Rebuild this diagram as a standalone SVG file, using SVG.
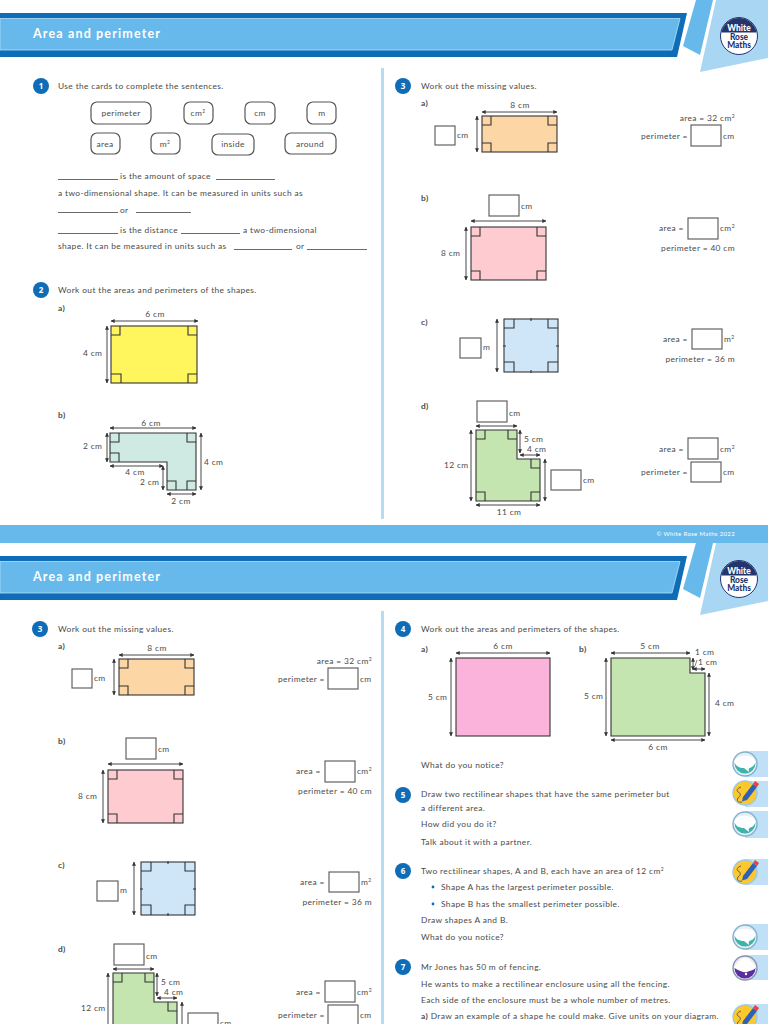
<svg xmlns="http://www.w3.org/2000/svg" width="768" height="1024" viewBox="0 0 768 1024">
<style>
text{font-family:Lato,"Noto Sans","Liberation Sans",sans-serif}
.t{font-size:8.4px;letter-spacing:.37px;fill:#4a4a4a}
.b{font-weight:700}
.e{text-anchor:end}
.m{text-anchor:middle}
.n{font-size:8px;font-weight:700;fill:#fff;text-anchor:middle;font-family:"Noto Sans",sans-serif}
.title{font-size:12.5px;font-weight:700;fill:#fff;letter-spacing:1.15px}
.logo{font-size:8.4px;font-weight:900;text-anchor:middle;fill:#24356e}
.sup{font-size:5px}
.card{fill:#fff;stroke:#555;stroke-width:1.2}
.box{fill:#fff;stroke:#555;stroke-width:1.1}
.sh{stroke:#333;stroke-width:1.1}
.ra{fill:none;stroke:#333;stroke-width:1.1}
.ar{fill:none;stroke:#333;stroke-width:.9;marker-start:url(#ah);marker-end:url(#ah)}
.ul{stroke:#444;stroke-width:.8}
.tab{fill:#bfe0f6}
</style>
<defs>
<marker id="ah" viewBox="0 0 6 6" refX="5.5" refY="3" markerWidth="4" markerHeight="4" orient="auto-start-reverse" markerUnits="userSpaceOnUse"><path d="M0 0L6 3L0 6z" fill="#333"/></marker>
<clipPath id="lc"><circle cx="739" cy="36" r="18"/></clipPath>
<g id="hdr">
<path d="M0 13H687L677 57H0z" fill="#0f6cb6"/>
<path d="M0 18.5H680L672 50H0z" fill="#66b9ea" stroke="#b5dff8" stroke-width=".8"/>
<path d="M696 0H713L700 55L683 46z" fill="#66b9ea"/>
<path d="M716 0H768V58L700 72z" fill="#a8d6f3"/>
<circle cx="739" cy="36" r="18.5" fill="#fff" stroke="#24356e" stroke-width="1"/>
<rect x="720" y="17" width="38" height="15.5" fill="#24356e" clip-path="url(#lc)"/>
</g>
<g id="q3shapes">
<rect x="482" y="116" width="75" height="36" fill="#fdd6a6" class="sh"/>
<path class="ra" d="M491 116V125H482M548 116V125H557M482 143H491V152M557 143H548V152"/>
<path class="ar" d="M482 112H557"/><path class="ar" d="M477 116V152"/>
<rect class="box" x="435" y="126" width="20" height="19"/>
<rect class="box" x="691" y="125" width="30" height="21"/>
<rect class="box" x="489" y="195" width="30" height="21"/>
<path class="ar" d="M471 221H546"/>
<rect x="471" y="227" width="75" height="53" fill="#fdcbd0" class="sh"/>
<path class="ra" d="M480 227V236H471M537 227V236H546M471 271H480V280M546 271H537V280"/>
<path class="ar" d="M466 227V280"/>
<rect class="box" x="688" y="218" width="30" height="21"/>
<rect x="504" y="319" width="54" height="53" fill="#cfe6f8" class="sh"/>
<path class="ra" d="M514 319V328H504M548 319V328H558M504 362H514V372M558 362H548V372M531 318V321M531 370V373M503 346H506M556 346H559"/>
<path class="ar" d="M497 319V372"/>
<rect class="box" x="460" y="338" width="21" height="20"/>
<rect class="box" x="692" y="329" width="30" height="20"/>
<rect class="box" x="477" y="401" width="30" height="21"/>
<path class="ar" d="M476 426H517"/>
<path d="M476 430H517V459H540V501H476z" fill="#c5e5b0" class="sh"/>
<path class="ra" d="M485 430V439H476M508 430V439H517M540 468H531V459M476 492H485V501M540 492H531V501"/>
<path class="ar" d="M471 430V501"/><path class="ar" d="M520 430V453"/><path class="ar" d="M520 455H540"/><path class="ar" d="M545 459V501"/>
<rect class="box" x="551" y="470" width="30" height="20"/>
<path class="ar" d="M476 505H540"/>
<rect class="box" x="688" y="438" width="30" height="21"/>
<rect class="box" x="691" y="462" width="30" height="20"/>
</g>
<g id="talk">
<circle r="12" fill="#e8eef2" stroke="#7fb4cf" stroke-width="1.4"/>
<path d="M-10.5 -1A10.5 10.5 0 0 0 10.5 -1L6 2L3 6L1 3H-5z" fill="#3fb3ab"/>
<path d="M-10.5 -3C-8 -10 8 -10 10.5 -3C10 2 6 4 3.5 4L4 8L-1 4C-6 4 -10 2 -10.5 -3z" fill="#fff"/>
</g>
<g id="think">
<circle r="12" fill="#e8eef2" stroke="#8a8fb0" stroke-width="1.4"/>
<path d="M-10.5 0A10.5 10.5 0 0 0 10.5 0z" fill="#5b2d9e"/>
<path d="M-10.5 0C-10 -4 -6 -5 -5 -8C-3 -11 3 -11 5 -8C7 -5 10 -4 10.5 0C8 3 3 3 2 4C0 5 -6 3 -10.5 0z" fill="#fff"/>
<circle cx="1" cy="6" r="1.2" fill="#fff"/>
</g>
<g id="pencil">
<circle r="12" fill="#fcc82e" stroke="#9cc9e4" stroke-width="1.4"/>
<path d="M-2 4L8 -9L12 -6L2 7L-3 8.5z" fill="#2f62b5"/>
<path d="M8 -9L10 -12L14 -9L12 -6z" fill="#e0463c"/>
<path d="M-3 9C-6 10 -9 8 -7 5C-4 3 -4 0 -7 -1C-9 -3 -7 -5 -4 -6" fill="none" stroke="#555" stroke-width=".9"/>
</g>
</defs>

<g id="page1-header">
<use href="#hdr"/>
<text class="title" x="33" y="38">Area and perimeter</text>
<text class="logo" x="739" y="31" style="fill:#fff">White</text>
<text class="logo" x="739" y="39.5">Rose</text>
<text class="logo" x="739" y="47.5">Maths</text>
</g>
<rect id="page1-divider" x="381" y="68" width="3" height="451" fill="#b5dcf5"/>
<g id="page1-footer">
<rect y="525" width="768" height="18" fill="#66b9ea"/>
<text x="735" y="536" style="font-size:6px;letter-spacing:.35px;fill:#fff" class="e">© White Rose Maths 2022</text>
</g>

<g id="q1">
<circle cx="41" cy="86" r="8" fill="#0f6cb6"/><text class="n" x="41" y="89">1</text>
<text class="t" x="58" y="89">Use the cards to complete the sentences.</text>
<g id="cards">
<rect class="card" x="91" y="102" width="60" height="22" rx="6"/><text class="t m" x="121" y="116">perimeter</text>
<rect class="card" x="184" y="102" width="29" height="22" rx="6"/><text class="t m" x="198" y="116">cm<tspan class="sup" dy="-3">2</tspan></text>
<rect class="card" x="245" y="102" width="30" height="22" rx="6"/><text class="t m" x="260" y="116">cm</text>
<rect class="card" x="307" y="102" width="29" height="22" rx="6"/><text class="t m" x="322" y="116">m</text>
<rect class="card" x="91" y="133" width="29" height="21" rx="6"/><text class="t m" x="105" y="147">area</text>
<rect class="card" x="151" y="133" width="29" height="21" rx="6"/><text class="t m" x="165" y="147">m<tspan class="sup" dy="-3">2</tspan></text>
<rect class="card" x="212" y="134" width="42" height="21" rx="6"/><text class="t m" x="233" y="147">inside</text>
<rect class="card" x="285" y="133" width="51" height="21" rx="6"/><text class="t m" x="310" y="147">around</text>
</g>
<path class="ul" d="M58 179.5H118M216 179.5H275M58 212.5H118M136 212.5H191M58 233.5H118M181 233.5H240M234 249.5H292M307 249.5H367"/>
<text class="t" x="120" y="179">is the amount of space</text>
<text class="t" x="58" y="196">a two-dimensional shape. It can be measured in units such as</text>
<text class="t" x="120" y="213">or</text>
<text class="t" x="120" y="233">is the distance</text>
<text class="t" x="243" y="233">a two-dimensional</text>
<text class="t" x="58" y="249">shape. It can be measured in units such as</text>
<text class="t" x="296" y="249">or</text>
</g>

<g id="q2">
<circle cx="41" cy="290" r="8" fill="#0f6cb6"/><text class="n" x="41" y="293">2</text>
<text class="t" x="58" y="293">Work out the areas and perimeters of the shapes.</text>
<text class="t b" x="58" y="311">a)</text>
<rect x="111" y="326" width="86" height="57" fill="#fff65e" class="sh"/>
<path class="ra" d="M120 326V335H111M188 326V335H197M111 374H121V383M197 374H188V383"/>
<path class="ar" d="M111 321H198"/><path class="ar" d="M107 326V383"/>
<text class="t m" x="155" y="317">6 cm</text><text class="t" x="83" y="356">4 cm</text>
<text class="t b" x="58" y="418">b)</text>
<path d="M110 433H196V490H167V462H110z" fill="#cfeae3" class="sh"/>
<path class="ra" d="M119 433V442H110M187 433V442H196M110 453H119V462M167 481H176V490M196 481H187V490"/>
<path class="ar" d="M110 428H196"/><path class="ar" d="M107 433V462"/><path class="ar" d="M201 433V490"/><path class="ar" d="M110 466H163"/><path class="ar" d="M163 466V490"/><path class="ar" d="M167 494H196"/>
<text class="t m" x="151" y="426">6 cm</text><text class="t" x="83" y="449">2 cm</text><text class="t" x="204" y="465">4 cm</text><text class="t m" x="135" y="475">4 cm</text><text class="t" x="140" y="485">2 cm</text><text class="t m" x="181" y="504">2 cm</text>
</g>

<g id="q3">
<use href="#q3shapes"/>
<circle cx="403" cy="86" r="8" fill="#0f6cb6"/><text class="n" x="403" y="89">3</text>
<text class="t" x="421" y="89">Work out the missing values.</text>
<text class="t b" x="421" y="106">a)</text>
<text class="t m" x="520" y="108">8 cm</text><text class="t" x="457" y="138">cm</text>
<text class="t e" x="735" y="121">area = 32 cm<tspan class="sup" dy="-3">2</tspan></text>
<text class="t" x="641" y="139">perimeter =</text><text class="t" x="723" y="139">cm</text>
<text class="t b" x="421" y="201">b)</text>
<text class="t" x="521" y="209">cm</text><text class="t" x="441" y="256">8 cm</text>
<text class="t" x="659" y="231">area =</text><text class="t" x="720" y="231">cm<tspan class="sup" dy="-3">2</tspan></text>
<text class="t e" x="735" y="251">perimeter = 40 cm</text>
<text class="t b" x="421" y="325">c)</text>
<text class="t" x="483" y="350">m</text>
<text class="t" x="663" y="342">area =</text><text class="t" x="724" y="342">m<tspan class="sup" dy="-3">2</tspan></text>
<text class="t e" x="735" y="362">perimeter = 36 m</text>
<text class="t b" x="421" y="409">d)</text>
<text class="t" x="509" y="416">cm</text><text class="t" x="444" y="468">12 cm</text><text class="t" x="524" y="442">5 cm</text><text class="t" x="527" y="452">4 cm</text><text class="t" x="583" y="483">cm</text><text class="t m" x="509" y="515">11 cm</text>
<text class="t" x="659" y="452">area =</text><text class="t" x="720" y="452">cm<tspan class="sup" dy="-3">2</tspan></text>
<text class="t" x="641" y="475">perimeter =</text><text class="t" x="723" y="475">cm</text>
</g>

<g id="page2-header" transform="translate(0 543)">
<use href="#hdr"/>
<text class="title" x="33" y="38">Area and perimeter</text>
<text class="logo" x="739" y="31" style="fill:#fff">White</text>
<text class="logo" x="739" y="39.5">Rose</text>
<text class="logo" x="739" y="47.5">Maths</text>
</g>
<rect id="page2-divider" x="381" y="611" width="3" height="413" fill="#b5dcf5"/>

<g id="q3-repeat" transform="translate(-363 543)">
<use href="#q3shapes"/>
<circle cx="403" cy="86" r="8" fill="#0f6cb6"/><text class="n" x="403" y="89">3</text>
<text class="t" x="421" y="89">Work out the missing values.</text>
<text class="t b" x="421" y="106">a)</text>
<text class="t m" x="520" y="108">8 cm</text><text class="t" x="457" y="138">cm</text>
<text class="t e" x="735" y="121">area = 32 cm<tspan class="sup" dy="-3">2</tspan></text>
<text class="t" x="641" y="139">perimeter =</text><text class="t" x="723" y="139">cm</text>
<text class="t b" x="421" y="201">b)</text>
<text class="t" x="521" y="209">cm</text><text class="t" x="441" y="256">8 cm</text>
<text class="t" x="659" y="231">area =</text><text class="t" x="720" y="231">cm<tspan class="sup" dy="-3">2</tspan></text>
<text class="t e" x="735" y="251">perimeter = 40 cm</text>
<text class="t b" x="421" y="325">c)</text>
<text class="t" x="483" y="350">m</text>
<text class="t" x="663" y="342">area =</text><text class="t" x="724" y="342">m<tspan class="sup" dy="-3">2</tspan></text>
<text class="t e" x="735" y="362">perimeter = 36 m</text>
<text class="t b" x="421" y="409">d)</text>
<text class="t" x="509" y="416">cm</text><text class="t" x="444" y="468">12 cm</text><text class="t" x="524" y="442">5 cm</text><text class="t" x="527" y="452">4 cm</text><text class="t" x="583" y="483">cm</text><text class="t m" x="509" y="515">11 cm</text>
<text class="t" x="659" y="452">area =</text><text class="t" x="720" y="452">cm<tspan class="sup" dy="-3">2</tspan></text>
<text class="t" x="641" y="475">perimeter =</text><text class="t" x="723" y="475">cm</text>
</g>

<g id="q4">
<circle cx="403" cy="629" r="8" fill="#0f6cb6"/><text class="n" x="403" y="632">4</text>
<text class="t" x="421" y="632">Work out the areas and perimeters of the shapes.</text>
<text class="t b" x="421" y="652">a)</text>
<rect x="456" y="658" width="94" height="78" fill="#fbb3dc" class="sh"/>
<path class="ar" d="M456 653H550"/><path class="ar" d="M451 658V736"/>
<text class="t m" x="503" y="649">6 cm</text><text class="t" x="428" y="700">5 cm</text>
<text class="t b" x="579" y="652">b)</text>
<path d="M611 658H690V673H705V736H611z" fill="#c5e5b0" class="sh"/>
<path class="ar" d="M611 653H690"/><path class="ar" d="M606 658V736"/><path class="ar" d="M693 658V670"/><path class="ar" d="M693 669H705"/><path class="ar" d="M709 673V736"/><path class="ar" d="M611 740H705"/>
<path d="M697 660L695 666" stroke="#333" stroke-width=".6"/>
<text class="t m" x="650" y="649">5 cm</text><text class="t" x="584" y="699">5 cm</text><text class="t" x="695" y="655">1 cm</text><text class="t" x="698" y="665">1 cm</text><text class="t" x="715" y="706">4 cm</text><text class="t m" x="658" y="750">6 cm</text>
<text class="t" x="421" y="768">What do you notice?</text>
</g>

<g id="q5">
<circle cx="403" cy="795" r="8" fill="#0f6cb6"/><text class="n" x="403" y="798">5</text>
<text class="t" x="421" y="797">Draw two rectilinear shapes that have the same perimeter but</text>
<text class="t" x="421" y="811">a different area.</text>
<text class="t" x="421" y="827">How did you do it?</text>
<text class="t" x="421" y="845">Talk about it with a partner.</text>
</g>
<g id="q6">
<circle cx="403" cy="871" r="8" fill="#0f6cb6"/><text class="n" x="403" y="874">6</text>
<text class="t" x="421" y="874">Two rectilinear shapes, A and B, each have an area of 12 cm<tspan class="sup" dy="-3">2</tspan></text>
<circle cx="433" cy="887" r="1.4" fill="#0f6cb6"/><text class="t" x="441" y="890">Shape A has the largest perimeter possible.</text>
<circle cx="433" cy="904" r="1.4" fill="#0f6cb6"/><text class="t" x="441" y="907">Shape B has the smallest perimeter possible.</text>
<text class="t" x="421" y="923">Draw shapes A and B.</text>
<text class="t" x="421" y="940">What do you notice?</text>
</g>
<g id="q7">
<circle cx="403" cy="967" r="8" fill="#0f6cb6"/><text class="n" x="403" y="970">7</text>
<text class="t" x="421" y="970">Mr Jones has 50 m of fencing.</text>
<text class="t" x="421" y="987">He wants to make a rectilinear enclosure using all the fencing.</text>
<text class="t" x="421" y="1003">Each side of the enclosure must be a whole number of metres.</text>
<text class="t" x="421" y="1019"><tspan class="b">a)</tspan> Draw an example of a shape he could make. Give units on your diagram.</text>
</g>

<g id="icons">
<rect class="tab" x="745" y="751" width="23" height="26"/><use href="#talk" x="745" y="764"/>
<rect class="tab" x="745" y="781" width="23" height="26"/><use href="#pencil" x="745" y="793"/>
<rect class="tab" x="745" y="811" width="23" height="27"/><use href="#talk" x="745" y="824"/>
<rect class="tab" x="745" y="859" width="23" height="26"/><use href="#pencil" x="745" y="872"/>
<rect class="tab" x="745" y="924" width="23" height="26"/><use href="#talk" x="745" y="937"/>
<rect class="tab" x="745" y="955" width="23" height="25"/><use href="#think" x="745" y="968"/>
<rect class="tab" x="745" y="1004" width="23" height="20"/><use href="#pencil" x="745" y="1017"/>
</g>
</svg>
